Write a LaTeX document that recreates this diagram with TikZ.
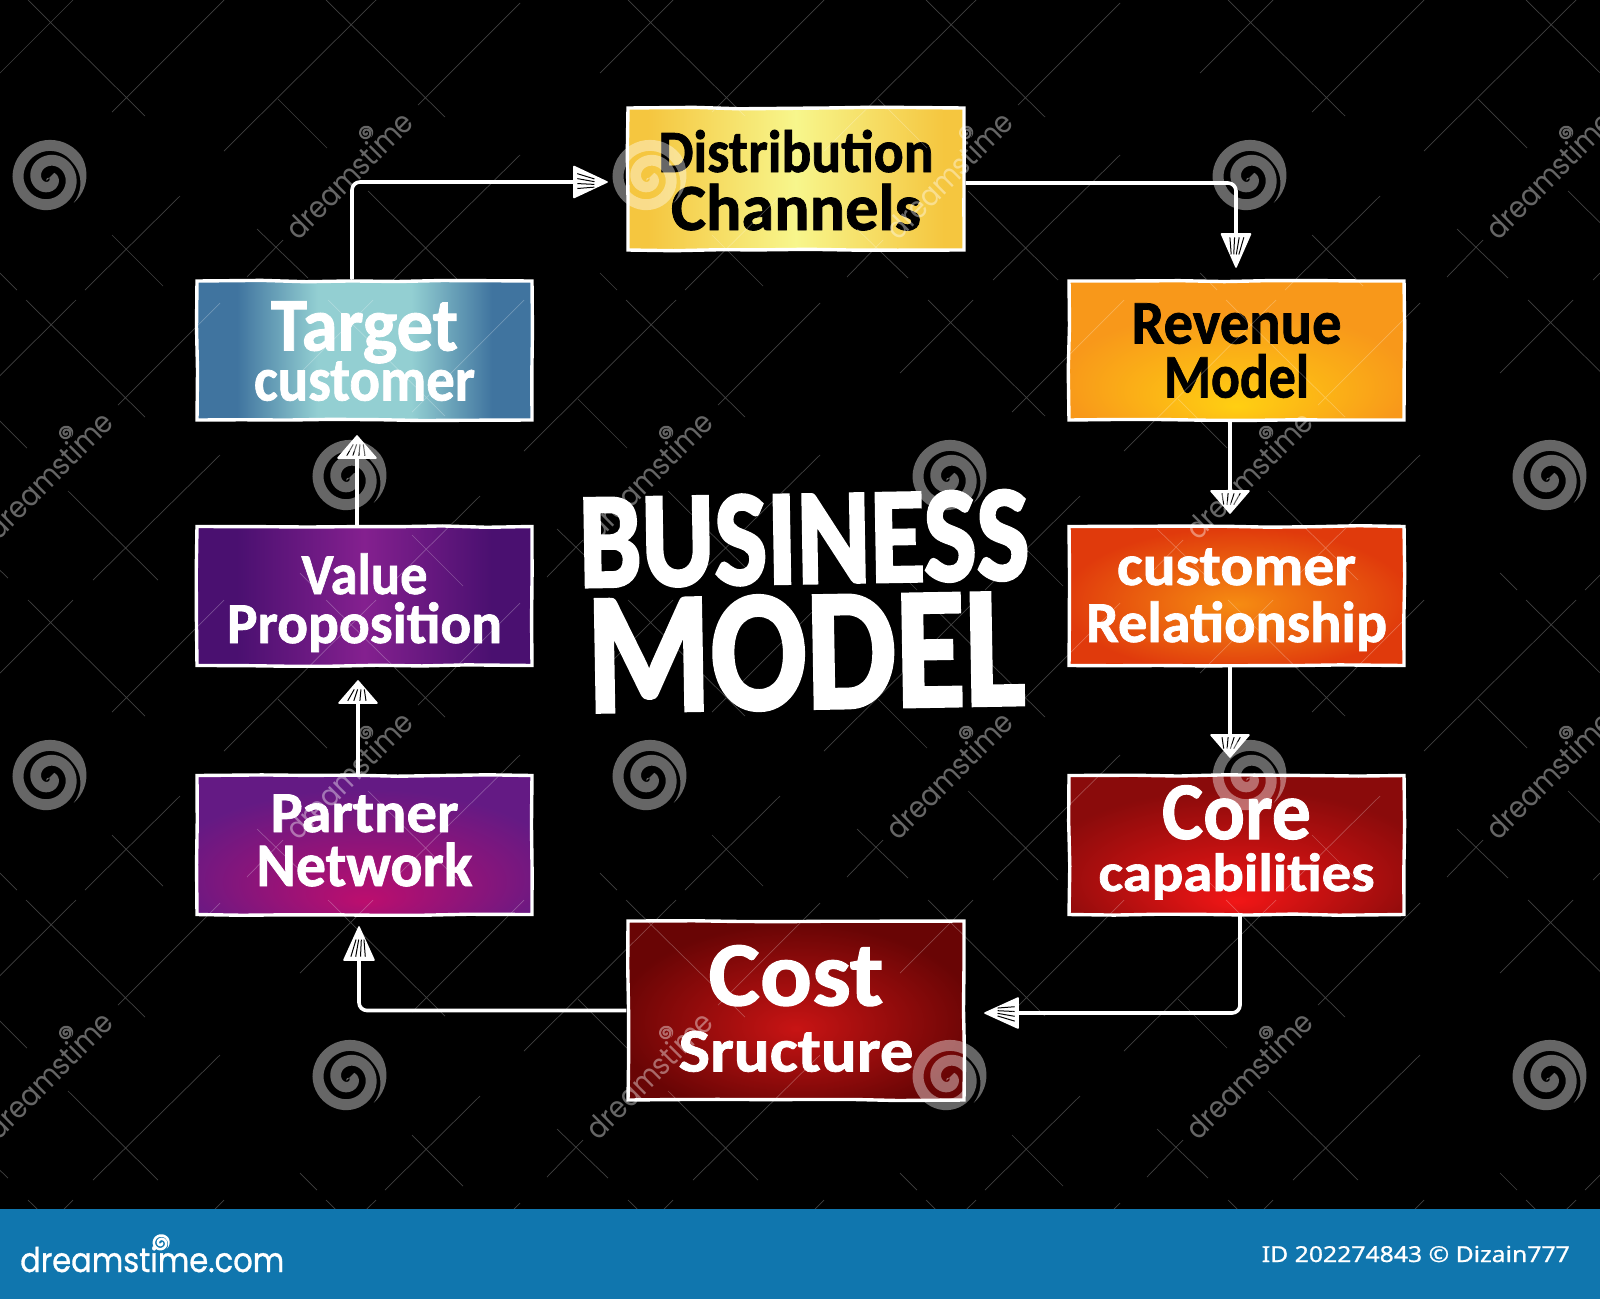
\documentclass[tikz,border=0pt]{standalone}
\usepackage{graphicx}
\usepackage{fontspec}
\usetikzlibrary{decorations.pathmorphing}
\newfontfamily\hand{Carlito}[BoldFeatures={FakeBold=1.2}]
\newfontfamily\titlefont{Carlito}[BoldFeatures={FakeBold=2.5}]
\newfontfamily\wmfont{Poppins}
\newfontfamily\brandfont{Poppins}[FakeBold=1]
\newfontfamily\idfont{Noto Sans}[FakeBold=.8]
\definecolor{barblue}{HTML}{1076AE}
\definecolor{distO}{HTML}{F5C63F}\definecolor{distI}{HTML}{F7F68C}
\definecolor{targO}{HTML}{40749F}\definecolor{targI}{HTML}{93CFD2}
\definecolor{reveO}{HTML}{F8981A}\definecolor{reveI}{HTML}{FFCF12}
\definecolor{valuO}{HTML}{4A1070}\definecolor{valuI}{HTML}{84208F}
\definecolor{custO}{HTML}{E03A0C}\definecolor{custI}{HTML}{F68C12}
\definecolor{partO}{HTML}{641A84}\definecolor{partI}{HTML}{BC0E6E}
\definecolor{coreO}{HTML}{8A0B0B}\definecolor{coreI}{HTML}{F21616}
\definecolor{costO}{HTML}{690505}\definecolor{costI}{HTML}{C81414}
\pgfdeclarehorizontalshading{sdist}{100bp}{color(0bp)=(distO);color(28bp)=(distO);color(50bp)=(distI);color(72bp)=(distO);color(100bp)=(distO)}
\pgfdeclarehorizontalshading{starg}{100bp}{color(0bp)=(targO);color(31bp)=(targO);color(43bp)=(targI);color(57bp)=(targI);color(69bp)=(targO);color(100bp)=(targO)}
\pgfdeclareradialshading{sreve}{\pgfpoint{0bp}{-20bp}}{color(0bp)=(reveI);color(26bp)=(reveO);color(60bp)=(reveO)}
\pgfdeclarehorizontalshading{svalu}{100bp}{color(0bp)=(valuO);color(31bp)=(valuO);color(50bp)=(valuI);color(69bp)=(valuO);color(100bp)=(valuO)}
\pgfdeclareradialshading{scust}{\pgfpoint{0bp}{-3bp}}{color(0bp)=(custI);color(26bp)=(custO);color(60bp)=(custO)}
\pgfdeclareradialshading{spart}{\pgfpoint{0bp}{-20bp}}{color(0bp)=(partI);color(30bp)=(partO);color(60bp)=(partO)}
\pgfdeclareradialshading{score}{\pgfpoint{0bp}{-20bp}}{color(0bp)=(coreI);color(30bp)=(coreO);color(60bp)=(coreO)}
\pgfdeclareradialshading{scost}{\pgfpoint{0bp}{-5bp}}{color(0bp)=(costI);color(27bp)=(costO);color(60bp)=(costO)}
\def\WW{330}\def\HH{60}
\newcommand{\hl}[3]{{\fontsize{#2}{#2}\selectfont\resizebox{#1pt}{\height}{#3}}}
\newcommand{\twol}[8]{\vbox{\hsize=\WW pt\offinterlineskip
  \vskip\dimexpr\HH pt+#1pt\relax
  \hbox to \WW pt{\hfil\smash{\hl{#3}{#4}{#5}}\hfil}
  \vskip\dimexpr#2pt-#1pt\relax
  \hbox to \WW pt{\hfil\smash{\hl{#6}{#7}{#8}}\hfil}
  \vskip\dimexpr\HH pt-#2pt\relax}}
\tikzset{
  box/.style={rectangle,inner sep=0pt,minimum width=335pt,minimum height=139pt,draw=white,
    line width=3.4pt,shade,decorate,decoration={random steps,segment length=45pt,amplitude=.8pt},
    font=\hand\bfseries,text=white},
  conn/.style={draw=white,line width=3.6pt,rounded corners=8pt,shorten >=6pt},
  wmline/.style={draw=white,opacity=.25,line width=.7pt},
  wmmark/.style={fill=white,opacity=.4},
  dtspiral/.pic={
    \fill plot[domain=-45:765,samples=110]
      ({(sr(\x)+sw(\x)/2)*cos(\x)},{-(sr(\x)+sw(\x)/2)*sin(\x)})
      -- plot[domain=765:-45,samples=110]
      ({(sr(\x)-sw(\x)/2)*cos(\x)},{-(sr(\x)-sw(\x)/2)*sin(\x)}) -- cycle;
  },
  hatchtip/.pic={
    \fill[white,draw=white,line width=1.6pt,line join=round] (0,0) -- (-1,-.5) -- (-1,.5) -- cycle;
    \foreach \q in {-.27,-.11,.05,.21}
      \draw[black,line width=1pt] (-.9,\q) -- (-.38,\q*.55+.05);
  }
}
\begin{document}
\begin{tikzpicture}[x=1pt,y=-1pt,
  declare function={
    sr(\a)=(\a>180)?(31-(\a-180)*0.05):(31+(180-\a)*0.0178);
    sw(\a)=min(11,(\a+45)*0.14);
  }]
\pgfmathsetseed{4711}
\useasboundingbox (0,0) rectangle (1600,1299);
\fill[black] (0,0) rectangle (1600,1299);

% free ends of the connectors
\coordinate (t1) at (607,182);
\coordinate (t2) at (1236,267);
\coordinate (t3) at (1230,513);
\coordinate (t4) at (1230,757);
\coordinate (t5) at (985,1013);
\coordinate (t6) at (359,927);
\coordinate (t7) at (358,681);
\coordinate (t8) at (357,436);

% boxes
\node[box,shading=sdist,text=black,minimum width=336pt,minimum height=142pt] (dist) at (796,179)
  {\twol{-7}{51}{275}{60}{Distribution}{250}{66}{Channels}};
\node[box,shading=starg] (targ) at (364.5,350.5)
  {\twol{0}{50}{187}{76}{Target}{221}{62}{customer}};
\node[box,shading=sreve,text=black] (reve) at (1236.5,350.5)
  {\twol{-7}{47}{210}{62}{Revenue}{145}{62}{Model}};
\node[box,shading=svalu] (valu) at (364.5,596)
  {\twol{-2}{47}{126}{58}{Value}{275}{58}{Proposition}};
\node[box,shading=scust] (cust) at (1236.5,596)
  {\twol{-11}{46}{239}{58}{customer}{301}{58}{Relationship}};
\node[box,shading=spart] (part) at (364.5,845)
  {\twol{-13}{41}{188}{58}{Partner}{216}{62}{Network}};
\node[box,shading=score] (core) at (1236.5,845)
  {\twol{-6}{46}{149}{82}{Core}{276}{54}{capabilities}};
\node[box,shading=scost,minimum width=336pt,minimum height=179pt] (cost) at (796,1010.5)
  {\twol{-5}{61}{175}{92}{Cost}{235}{62}{Sructure}};

% connectors
\draw[conn] ([xshift=-12.5pt]targ.north) |- (t1);
\draw[conn] ([yshift=-4pt]dist.east) -| (t2);
\draw[conn] ([xshift=-6.5pt]reve.south) -- (t3);
\draw[conn] ([xshift=-6.5pt]cust.south) -- (t4);
\draw[conn] ([xshift=3.5pt]core.south) |- (t5);
\draw[conn] (cost.west) -| (t6);
\draw[conn] ([xshift=-6.5pt]part.north) -- (t7);
\draw[conn] ([xshift=-7.5pt]valu.north) -- (t8);

% arrowheads
\path (t1) pic[xscale=33,yscale=31] {hatchtip};
\path (t2) pic[rotate=-90,xscale=33,yscale=29] {hatchtip};
\path (t3) pic[rotate=-90,xscale=22,yscale=38] {hatchtip};
\path (t4) pic[rotate=-90,xscale=22,yscale=38] {hatchtip};
\path (t5) pic[rotate=180,xscale=33,yscale=30] {hatchtip};
\path (t6) pic[rotate=90,xscale=33,yscale=30] {hatchtip};
\path (t7) pic[rotate=90,xscale=22,yscale=38] {hatchtip};
\path (t8) pic[rotate=90,xscale=22,yscale=38] {hatchtip};

% title
\node[inner sep=0pt,text=white,rotate=1,font=\titlefont\bfseries] (title) at (805,603)
  {\def\WW{520}\def\HH{150}\twol{-20}{105}{450}{136}{BUSINESS}{438}{172}{MODEL}};

% watermark
\begin{scope}
\clip (0,0) rectangle (1600,1209);
\foreach \j in {-600,0,600,1200}{
  \foreach \i in {-600,0,600,1200}{
    \foreach \dd in {0,300}{
      \begin{scope}[shift={(\i+\dd,\j+\dd)}]
      \path[wmline] (28,0)--(145,116) (73,0)--(0,73) (224,0)--(112,112) (376,0)--(224,151)
        (326,0)--(445,117) (278,99)--(327,148) (520,3)--(418,105) (180,196)--(85,290)
        (112,235)--(163,286) (0,273)--(17,290) (283,240)--(247,277) (257,229)--(308,278)
        (368,191)--(458,280) (520,155)--(393,280);
      \end{scope}
    }
  }
}
\foreach \j in {0,600}{
  \foreach \i in {0,600,1200}{
    \path (49+\i,178+\j) pic[wmmark] {dtspiral};
    \path (349+\i,478+\j) pic[wmmark] {dtspiral};
    \node[rotate=45,inner sep=0pt,text=white,opacity=.4,font=\wmfont\fontsize{30}{30}\selectfont]
      (wma-\i-\j) at (349+\i,175+\j) {\resizebox{165pt}{\height}{dreamstime}};
    \path (366+\i,133+\j) pic[wmmark,scale=.19] {dtspiral};
    \node[rotate=45,inner sep=0pt,text=white,opacity=.4,font=\wmfont\fontsize{30}{30}\selectfont]
      (wmb-\i-\j) at (49+\i,475+\j) {\resizebox{165pt}{\height}{dreamstime}};
    \path (66+\i,433+\j) pic[wmmark,scale=.19] {dtspiral};
  }
}
\end{scope}

% footer
\fill[barblue] (0,1209) rectangle (1600,1299);
\node[anchor=base west,inner sep=0pt,text=white,font=\brandfont\fontsize{34}{34}\selectfont] (brand) at (20,1272)
  {\resizebox{264pt}{\height}{dreamstime.com}};
\path (161,1243) pic[fill=white,scale=.23] {dtspiral};
\node[anchor=base east,inner sep=0pt,text=white,font=\idfont\fontsize{22}{22}\selectfont] (credit) at (1570,1262)
  {\resizebox{308pt}{\height}{ID 202274843 © Dizain777}};
\end{tikzpicture}
\end{document}
